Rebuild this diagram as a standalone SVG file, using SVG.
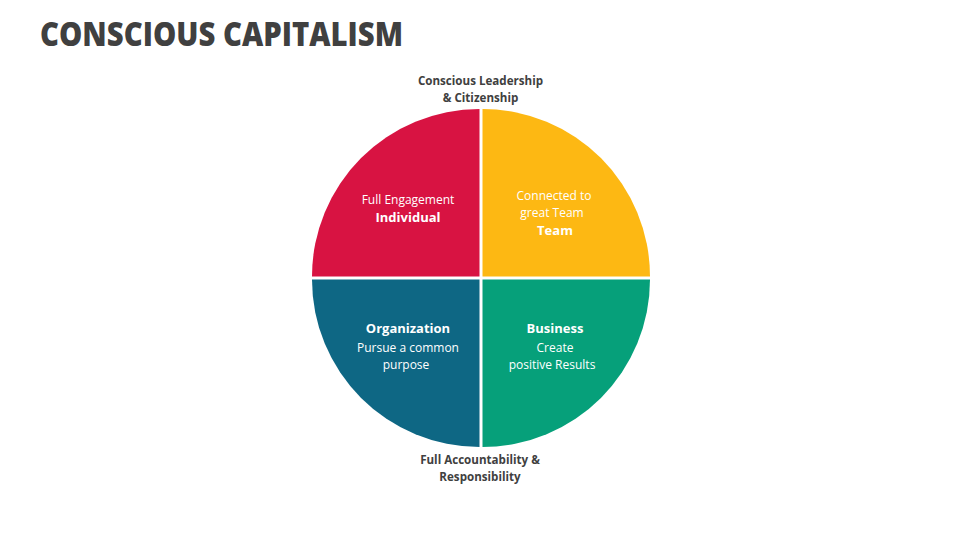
<svg xmlns="http://www.w3.org/2000/svg" width="960" height="540" viewBox="0 0 960 540">
<style>
.t{font-family:"Open Sans","Liberation Sans",sans-serif;text-anchor:middle}
.lbl{font-size:11.6px;font-weight:bold;fill:#404040}
.w{font-size:12px;fill:#ffffff}
.wb{font-size:13px;font-weight:bold;fill:#ffffff}
</style>
<rect width="960" height="540" fill="#ffffff"/>
<text x="40" y="46" font-family="'Open Sans','Liberation Sans',sans-serif" font-weight="800" font-size="34" fill="#404040" textLength="363" lengthAdjust="spacingAndGlyphs">CONSCIOUS CAPITALISM</text>
<g id="individual">
<path d="M479.5 276.5 L479.5 109 A167.5 167.5 0 0 0 312 276.5 Z" fill="#D81342"/>
<text class="t w" x="408" y="204">Full Engagement</text>
<text class="t wb" x="408" y="222">Individual</text>
</g>
<g id="team">
<path d="M482.5 276.5 L482.5 109 A167.5 167.5 0 0 1 650 276.5 Z" fill="#FDB813"/>
<text class="t w" x="554" y="200">Connected to</text>
<text class="t w" x="552" y="217">great Team</text>
<text class="t wb" x="555" y="235">Team</text>
</g>
<g id="organization">
<path d="M479.5 279.5 L479.5 447 A167.5 167.5 0 0 1 312 279.5 Z" fill="#0E6784"/>
<text class="t wb" x="408" y="333">Organization</text>
<text class="t w" x="408" y="352">Pursue a common</text>
<text class="t w" x="406" y="369">purpose</text>
</g>
<g id="business">
<path d="M482.5 279.5 L482.5 447 A167.5 167.5 0 0 0 650 279.5 Z" fill="#06A07A"/>
<text class="t wb" x="555" y="333">Business</text>
<text class="t w" x="555" y="352">Create</text>
<text class="t w" x="552" y="369">positive Results</text>
</g>
<g id="leadership">
<text class="t lbl" x="480.5" y="85">Conscious Leadership</text>
<text class="t lbl" x="480.5" y="102">&amp; Citizenship</text>
</g>
<g id="accountability">
<text class="t lbl" x="480" y="464">Full Accountability &amp;</text>
<text class="t lbl" x="480" y="481">Responsibility</text>
</g>
<g id="connectors"/>
</svg>
